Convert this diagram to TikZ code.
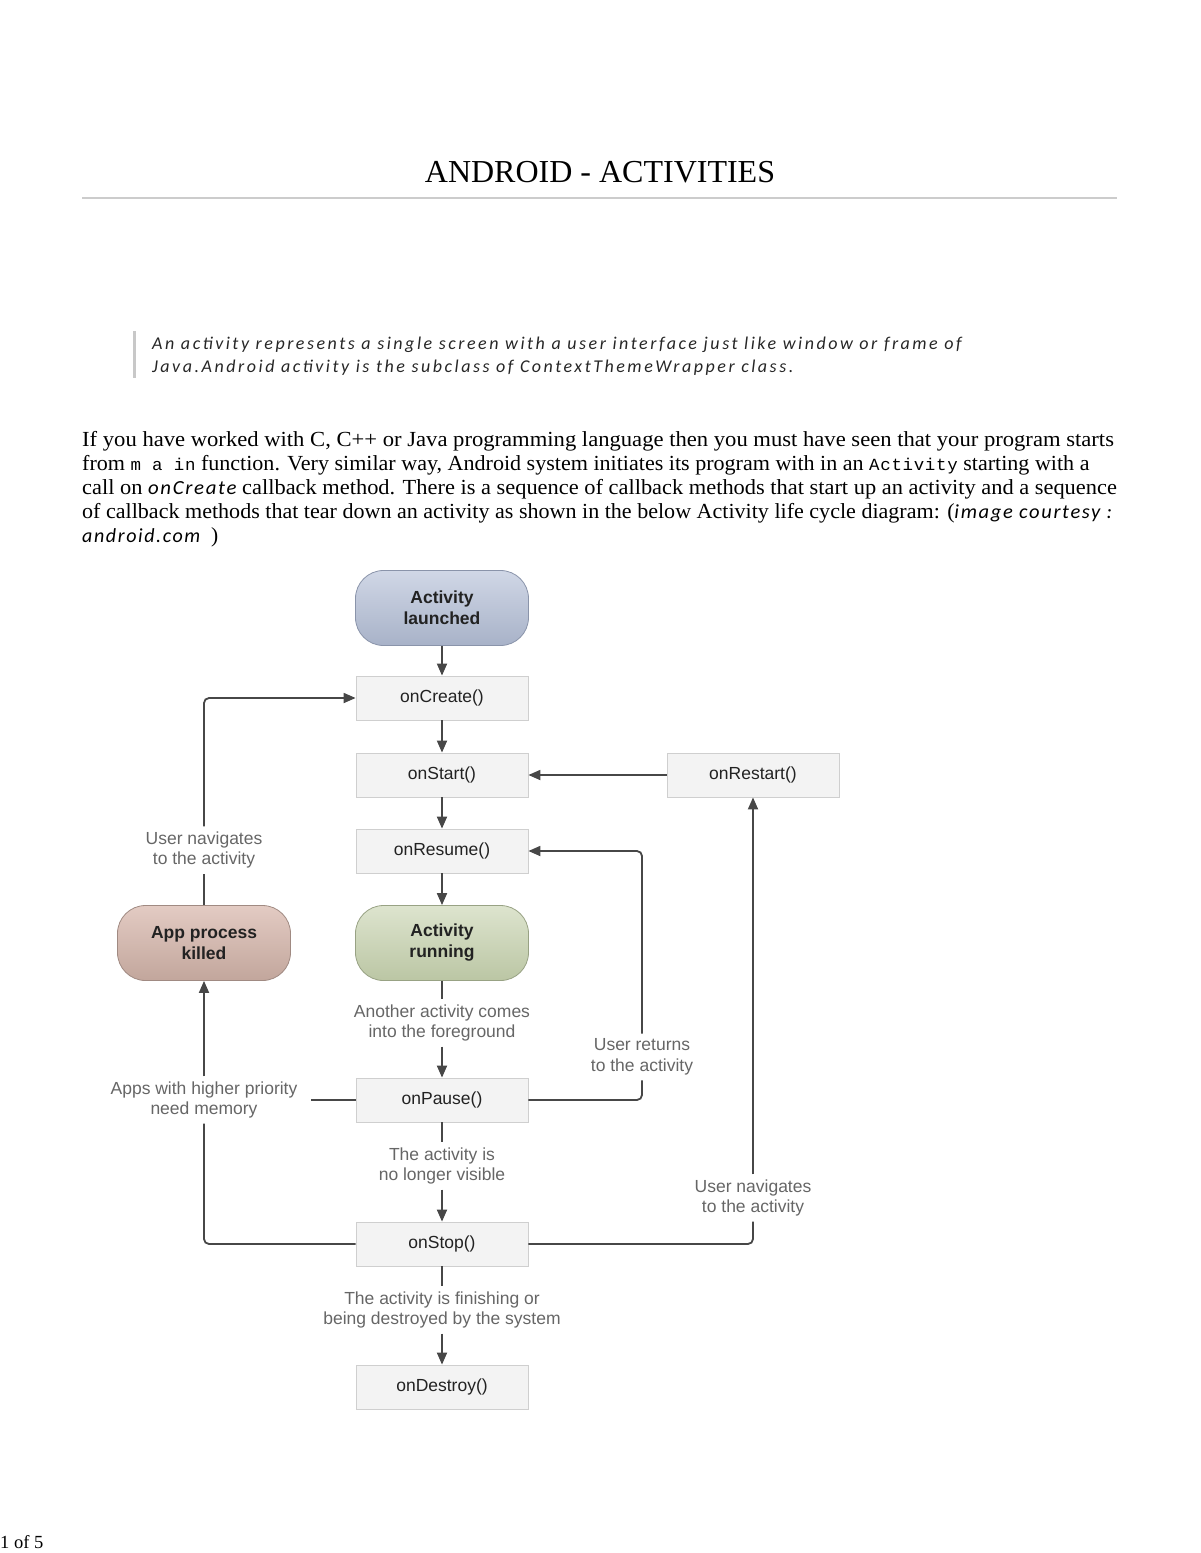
\documentclass[tikz,border=0pt]{standalone}
\usepackage{fontspec}
\setmainfont{Liberation Serif}
\newfontfamily\dfont{Liberation Sans}
\newfontfamily\qfont[LetterSpace=8]{Carlito}
\newfontfamily\qqfont[LetterSpace=14]{Carlito}
\newfontfamily\mfont[LetterSpace=4]{Liberation Mono}
\usetikzlibrary{arrows.meta}
\definecolor{boxline}{HTML}{CFCFCF}
\definecolor{boxfill}{HTML}{F3F3F3}
\definecolor{boxtext}{HTML}{222222}
\definecolor{lbltext}{HTML}{666666}
\definecolor{linecol}{HTML}{474747}
\definecolor{launchtop}{HTML}{D0D7E6}
\definecolor{launchbot}{HTML}{A8B2C8}
\definecolor{launchline}{HTML}{8A94AA}
\definecolor{runtop}{HTML}{DDE4CE}
\definecolor{runbot}{HTML}{BBC6A4}
\definecolor{runline}{HTML}{98A284}
\definecolor{killtop}{HTML}{E3CBC3}
\definecolor{killbot}{HTML}{C2A69C}
\definecolor{killline}{HTML}{A08A82}
\definecolor{rulecol}{HTML}{CCCCCC}
\definecolor{quotebar}{HTML}{C8C8C8}
\tikzset{
  mbox/.style={draw=boxline, fill=boxfill, line width=0.8pt, minimum width=172pt, minimum height=44pt, font=\dfont\fontsize{17.5}{20}\selectfont, text=boxtext},
  rbox/.style={line width=0.8pt, rounded corners=28pt, minimum width=173pt, minimum height=75pt, align=center, font=\dfont\bfseries\fontsize{17.5}{21}\selectfont, text=boxtext},
  lbl/.style={align=center, text=lbltext, font=\dfont\fontsize{17.5}{20.5}\selectfont, inner sep=5pt},
  ln/.style={draw=linecol, line width=1.8pt},
  arr/.style={ln, -{Triangle[length=12pt,width=10pt]}},
  ptext/.style={anchor=base west, inner sep=0pt, font=\fontsize{21.5}{24}\selectfont, text=black},
  qtext/.style={anchor=base west, inner sep=0pt, font=\qqfont\itshape\fontsize{18}{23}\selectfont, text=black!85},
}
\begin{document}
\begin{tikzpicture}[x=1pt,y=-1pt]
\useasboundingbox (0,0) rectangle (1200,1553);
% title
\node[anchor=base, inner sep=0pt, font=\fontsize{32}{36}\selectfont] (title) at (600,182) {ANDROID - ACTIVITIES};
\draw[rulecol, line width=2pt] (82,198) -- (1117,198);
% quote
\draw[quotebar, line width=3pt] (134,331) -- (134,378);
\node[qtext] (q1) at (152,349) {An activity represents a single screen with a user interface just like window or frame of};
\node[qtext] (q2) at (152,372) {Java.Android activity is the subclass of ContextThemeWrapper class.};
% paragraph
\node[ptext] (p1) at (82,446) {\scalebox{1.052}[1]{If you have worked with C, C++ or Java programming language then you must have seen that your program starts}};
\node[ptext] (p2) at (82,470) {\scalebox{1.026}[1]{from {\mfont\fontsize{17}{20}\selectfont m a in} function. Very similar way, Android system initiates its program with in an {\mfont\fontsize{17}{20}\selectfont Activity} starting with a}};
\node[ptext] (p3) at (82,494) {\scalebox{1.042}[1]{call on {\qfont\itshape\fontsize{20}{24}\selectfont onCreate} callback method. There is a sequence of callback methods that start up an activity and a sequence}};
\node[ptext] (p4) at (82,518) {\scalebox{1.026}[1]{of callback methods that tear down an activity as shown in the below Activity life cycle diagram: ({\qfont\itshape\fontsize{20}{24}\selectfont image courtesy :}}};
\node[ptext] (p5) at (82,542) {{\qfont\itshape\fontsize{20}{24}\selectfont android.com} \ )};
% page number
\node[anchor=base west, inner sep=0pt, font=\fontsize{18.5}{20}\selectfont] (pg) at (0,1548) {1 of 5};

% diagram nodes
\node[rbox, draw=launchline, top color=launchtop, bottom color=launchbot] (launch) at (442,608) {Activity\\launched};
\node[mbox] (create) at (442,698) {onCreate()};
\node[mbox] (start) at (442,775) {onStart()};
\node[mbox] (restart) at (753,775) {onRestart()};
\node[mbox] (resume) at (442,851) {onResume()};
\node[rbox, draw=runline, top color=runtop, bottom color=runbot] (running) at (442,943) {Activity\\running};
\node[rbox, draw=killline, top color=killtop, bottom color=killbot] (killed) at (204,943) {App process\\killed};
\node[mbox] (pause) at (442,1100) {onPause()};
\node[mbox] (stop) at (442,1244) {onStop()};
\node[mbox] (destroy) at (442,1387) {onDestroy()};

% labels
\node[lbl] (lnav1) at (204,850) {User navigates\\to the activity};
\node[lbl] (lanother) at (442,1023) {Another activity comes\\into the foreground};
\node[lbl] (lreturns) at (642,1057) {User returns\\to the activity};
\node[lbl] (lapps) at (204,1100) {Apps with higher priority\\need memory};
\node[lbl] (lnotvis) at (442,1166) {The activity is\\no longer visible};
\node[lbl] (lnav2) at (753,1198) {User navigates\\to the activity};
\node[lbl] (lfinish) at (442,1310) {The activity is finishing or\\being destroyed by the system};

% connectors
\draw[arr] (launch) -- (create);
\draw[arr] (create) -- (start);
\draw[arr] (start) -- (resume);
\draw[arr] (resume) -- (running);
\draw[ln] (running) -- (lanother);
\draw[arr] (lanother) -- (pause);
\draw[ln] (pause) -- (lnotvis);
\draw[arr] (lnotvis) -- (stop);
\draw[ln] (stop) -- (lfinish);
\draw[arr] (lfinish) -- (destroy);
\draw[arr] (restart) -- (start);
\draw[ln, rounded corners=5pt] (stop.east) -| (lnav2.south);
\draw[arr] (lnav2) -- (restart);
\draw[ln, rounded corners=5pt] (pause.east) -| (lreturns.south);
\draw[arr, rounded corners=5pt] (lreturns.north) |- (resume.east);
\draw[ln] (pause.west) -- ([xshift=8pt]lapps.east);
\draw[ln, rounded corners=5pt] (stop.west) -| (lapps.south);
\draw[arr] (lapps.north) -- (killed.south);
\draw[ln] (killed) -- (lnav1);
\draw[arr, rounded corners=5pt] (lnav1.north) |- (create.west);
\end{tikzpicture}
\end{document}
